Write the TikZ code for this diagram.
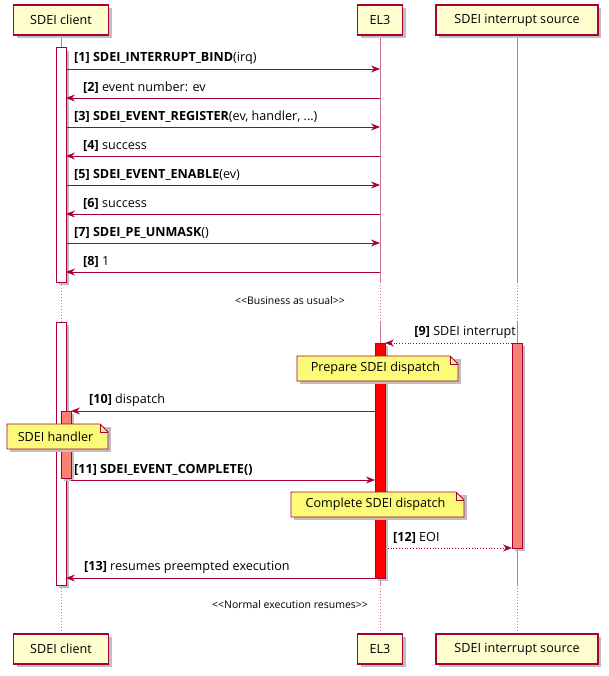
\documentclass[tikz,border=0pt]{standalone}
\usepackage{fontspec}
\setmainfont{Open Sans}
\usetikzlibrary{arrows.meta}
\definecolor{bd}{HTML}{A80036}
\definecolor{pf}{HTML}{FEFECE}
\definecolor{nf}{HTML}{FBFB77}
\definecolor{sal}{HTML}{FA8072}
\begin{document}
\begin{tikzpicture}[x=1pt,y=-1pt,font=\fontsize{12.6}{14}\selectfont,
  life/.style={draw=bd!55,line width=1pt},
  dots/.style={draw=bd!55,line width=1pt,dotted},
  act/.style={draw=bd,line width=1pt},
  msg/.style={draw=bd,line width=0.8pt,-{Stealth[length=9pt,width=7pt,inset=3pt]}},
  dmsg/.style={msg,dotted},
  lbl/.style={inner sep=0pt,anchor=south west},
  notebox/.style={fill=nf,draw=bd,line width=0.8pt},
  sh/.style={fill=black!25}]
\useasboundingbox (0,0) rectangle (608,676);
% lifelines
\foreach \x in {61,380,517}{
  \draw[life] (\x,35) -- (\x,282); \draw[dots] (\x,282) -- (\x,322);
  \draw[life] (\x,322) -- (\x,585); \draw[dots] (\x,585) -- (\x,634);}
% heads
\foreach \t/\x/\w/\y in {SDEI client/61/95/5,EL3/380/45/5,SDEI interrupt source/517/162/5,SDEI client/61/95/634,EL3/380/45/634,SDEI interrupt source/517/162/634}{
  \fill[sh] (\x-\w/2+3,\y+3) rectangle (\x+\w/2+3,\y+33);
  \draw[bd,fill=pf,line width=1.1pt] (\x-\w/2,\y) rectangle (\x+\w/2,\y+30);
  \node at (\x,\y+15) {\t};}
% activations
\fill[sh] (59,51) rectangle (69,285); \draw[act,fill=white] (56,48) rectangle (66,282);
\fill[sh] (59,325) rectangle (69,588); \draw[act,fill=white] (56,322) rectangle (66,585);
\fill[sh] (515,346) rectangle (525,551); \draw[act,fill=sal] (512,343) rectangle (522,548);
\fill[sh] (378,346) rectangle (388,581); \draw[act,fill=red] (375,343) rectangle (385,578);
\fill[sh] (64,414) rectangle (74,481); \draw[act,fill=sal] (61,411) rectangle (71,478);
% messages 1-8
\foreach \y/\t in {69/{\textbf{[1] SDEI\_INTERRUPT\_BIND}(irq)},127/{\textbf{[3] SDEI\_EVENT\_REGISTER}(ev, handler, ...)},185/{\textbf{[5] SDEI\_EVENT\_ENABLE}(ev)},243/{\textbf{[7] SDEI\_PE\_UNMASK}()}}{
  \coordinate (a) at (66,\y); \coordinate (b) at (380,\y);
  \draw[msg] (a) -- (b); \node[lbl] at (74,\y-4) {\t};}
\foreach \y/\t in {98/{\textbf{[2]} event number: ev},156/{\textbf{[4]} success},214/{\textbf{[6]} success},272/{\textbf{[8]} 1}}{
  \coordinate (a) at (380,\y); \coordinate (b) at (66,\y);
  \draw[msg] (a) -- (b); \node[lbl] at (83,\y-4) {\t};}
% dividers
\node[font=\fontsize{10.5}{12}\selectfont] (d1) at (290,301) {{<}{<}Business as usual{>}{>}};
\node[font=\fontsize{10.5}{12}\selectfont] (d2) at (290,605) {{<}{<}Normal execution resumes{>}{>}};
% 9
\coordinate (s9) at (512,343); \coordinate (e9) at (385,343);
\draw[dmsg] (s9) -- (e9); \node[lbl,anchor=south east] at (516,339) {\textbf{[9]} SDEI interrupt};
% notes
\newcommand\mynote[5]{%
  \fill[sh] (#1+3,#2+3) rectangle (#3+3,#4+3);
  \draw[notebox] (#1,#2) -- (#3-8,#2) -- (#3,#2+8) -- (#3,#4) -- (#1,#4) -- cycle;
  \draw[bd,line width=0.6pt] (#3-8,#2) -- (#3-8,#2+8) -- (#3,#2+8);
  \node at ({(#1+#3)/2-2},{(#2+#4)/2}) {#5};}
\mynote{297}{356}{458}{381}{Prepare SDEI dispatch}
% 10
\coordinate (a) at (375,411); \coordinate (b) at (71,411);
\draw[msg] (a) -- (b); \node[lbl] at (89,407) {\textbf{[10]} dispatch};
\mynote{7}{424}{108}{449}{SDEI handler}
% 11
\coordinate (a) at (71,480); \coordinate (b) at (375,480);
\draw[msg] (a) -- (b); \node[lbl] at (74,476) {\textbf{[11] SDEI\_EVENT\_COMPLETE()}};
\mynote{291}{492}{464}{517}{Complete SDEI dispatch}
% 12
\coordinate (a) at (385,548); \coordinate (b) at (512,548);
\draw[dmsg] (a) -- (b); \node[lbl] at (393,544) {\textbf{[12]} EOI};
% 13
\coordinate (a) at (375,578); \coordinate (b) at (66,578);
\draw[msg] (a) -- (b); \node[lbl] at (84,574) {\textbf{[13]} resumes preempted execution};
\end{tikzpicture}
\end{document}
